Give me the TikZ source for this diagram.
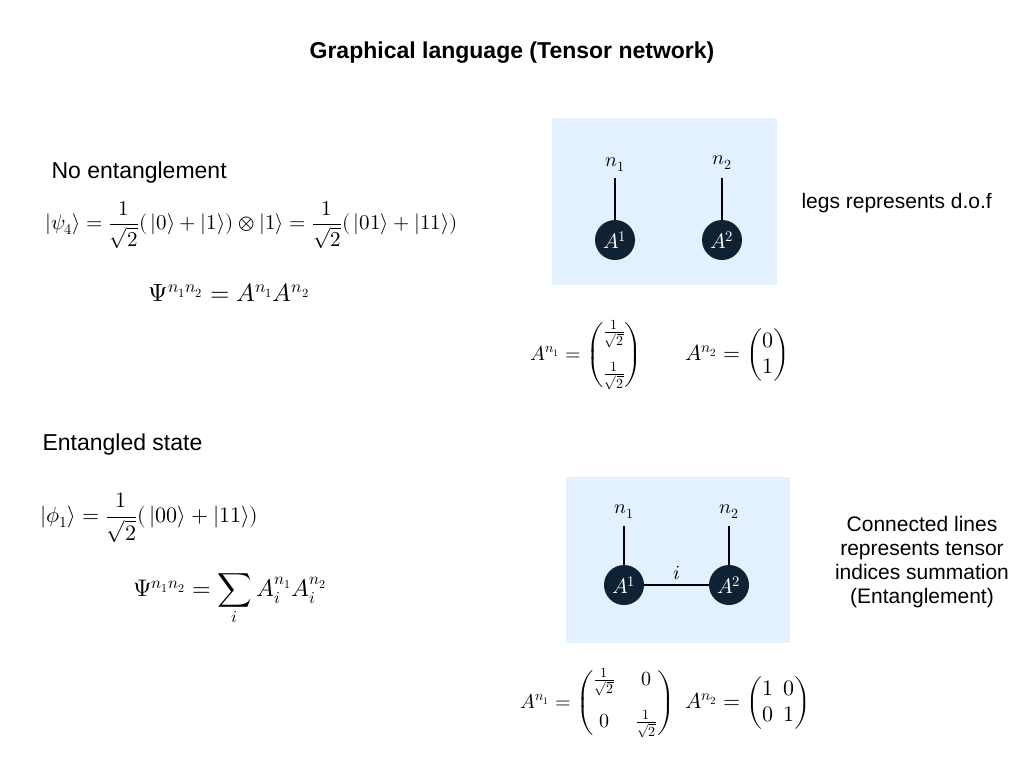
\documentclass[tikz,border=0pt]{standalone}
\usepackage{amsmath}
\usepackage{fontspec}
\setmainfont{Liberation Sans}
\usepackage{unicode-math}
\setmathfont{Latin Modern Math}
\definecolor{boxblue}{HTML}{E3F0FD}
\definecolor{tnode}{HTML}{0F2234}
\tikzset{
  tensor/.style={circle,fill=tnode,minimum size=40pt,inner sep=0pt,text=white,font=\fontsize{21}{24}\selectfont},
  lbl/.style={font=\fontsize{23}{26}\selectfont},
  eq/.style={font=\fontsize{20}{24}\selectfont,inner sep=0pt},
  bg/.style={fill=boxblue,draw=none},
  leg/.style={line width=1.2pt}
}
\begin{document}
\begin{tikzpicture}[x=1pt,y=-1pt]
\useasboundingbox (0,0) rectangle (1024,768);
\node[font=\bfseries\fontsize{23}{26}\selectfont] (title) at (512,53) {Graphical language (Tensor network)};
% top section
\node[lbl,anchor=west] (noent) at (48,173) {No entanglement};
\node[eq,anchor=west,font=\fontsize{21}{24}\selectfont] (psi4) at (45,225) {$|\psi_4\rangle=\dfrac{1}{\sqrt{2}}(\,|0\rangle+|1\rangle)\otimes|1\rangle=\dfrac{1}{\sqrt{2}}(\,|01\rangle+|11\rangle)$};
\node[eq,font=\fontsize{25}{28}\selectfont] (psiA) at (229,293) {$\Psi^{n_1n_2}=A^{n_1}A^{n_2}$};
\fill[bg] (552,118) rectangle (777,285);
\node[tensor] (a1) at (615,240) {$A^1$};
\node[tensor] (a2) at (722,240) {$A^2$};
\node[eq] (n1) at (615,165) {$n_1$};
\node[eq] (n2) at (722,163) {$n_2$};
\coordinate (t1) at (615,178);
\coordinate (t2) at (722,178);
\draw[leg] (a1) -- (t1);
\draw[leg] (a2) -- (t2);
\node[font=\fontsize{21}{24}\selectfont,anchor=west] (legs) at (798,203) {legs represents d.o.f};
\node[eq,anchor=west] (m1) at (530,355) {$A^{n_1}=\begin{pmatrix}\frac{1}{\sqrt{2}}\\[18pt]\frac{1}{\sqrt{2}}\end{pmatrix}$};
\node[eq,anchor=west,font=\fontsize{22}{26}\selectfont] (m2) at (685,355) {$A^{n_2}=\begin{pmatrix}0\\1\end{pmatrix}$};
% bottom section
\node[lbl,anchor=west] (ent) at (39,445) {Entangled state};
\node[eq,anchor=west,font=\fontsize{22}{26}\selectfont] (phi) at (40,518) {$|\phi_1\rangle=\dfrac{1}{\sqrt{2}}(\,|00\rangle+|11\rangle)$};
\node[eq,font=\fontsize{24}{28}\selectfont,anchor=west] (psisum) at (133,600) {$\Psi^{n_1n_2}=\displaystyle\sum_i A_i^{n_1}A_i^{n_2}$};
\fill[bg] (566,477) rectangle (790,643);
\node[tensor] (b1) at (624,585) {$A^1$};
\node[tensor] (b2) at (729,585) {$A^2$};
\node[eq] (bn1) at (624,512) {$n_1$};
\node[eq] (bn2) at (729,512) {$n_2$};
\coordinate (u1) at (624,526);
\coordinate (u2) at (729,526);
\draw[leg] (b1) -- (u1);
\draw[leg] (b2) -- (u2);
\draw[leg] (b1) -- node[eq,above=5pt] (ilbl) {$i$} (b2);
\node[font=\fontsize{21}{24}\selectfont,align=center] (conn) at (922,562) {Connected lines\\represents tensor\\indices summation\\(Entanglement)};
\node[eq,anchor=west] (mm1) at (520,703) {$A^{n_1}=\begin{pmatrix}\frac{1}{\sqrt{2}} & \;\;0\\[18pt] 0 & \;\;\frac{1}{\sqrt{2}}\end{pmatrix}$};
\node[eq,anchor=west,font=\fontsize{22}{26}\selectfont] (mm2) at (685,703) {$A^{n_2}=\begin{pmatrix}1&0\\0&1\end{pmatrix}$};
\end{tikzpicture}
\end{document}
